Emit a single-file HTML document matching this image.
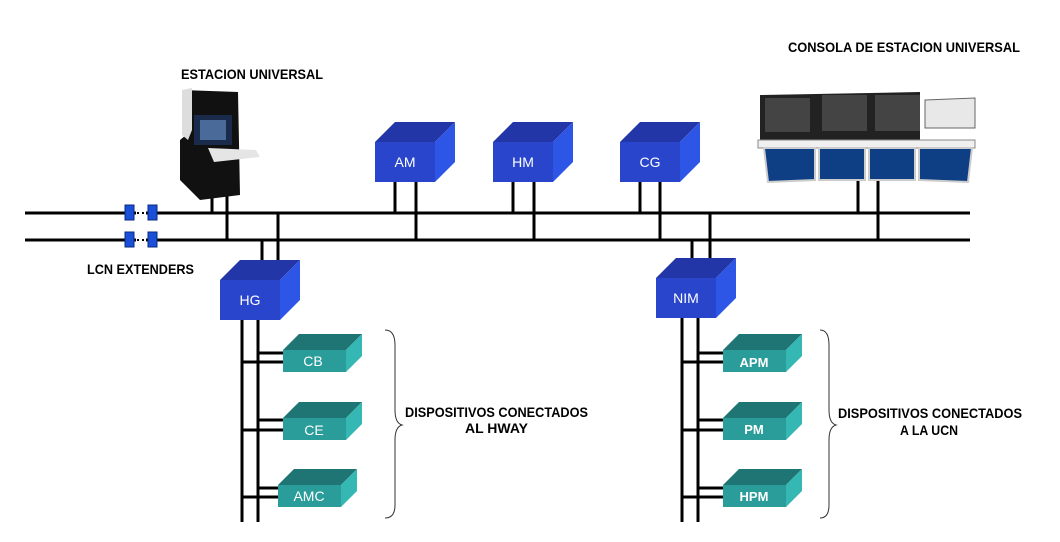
<!DOCTYPE html>
<html><head><meta charset="utf-8"><style>
html,body{margin:0;padding:0;background:#fff;}
svg{display:block;}
text{font-family:"Liberation Sans",sans-serif;}
</style></head><body>
<svg width="1060" height="542" viewBox="0 0 1060 542" xmlns="http://www.w3.org/2000/svg">
<defs>
<g id="bcube">
<polygon points="0,20 20,0 80,0 60,20" fill="#2236a8"/>
<polygon points="60,20 80,0 80,40 60,60" fill="#2d55e6"/>
<rect x="0" y="20" width="60" height="40" fill="#2845cc"/>
</g>
<g id="tcube">
<polygon points="0,16 16,0 79,0 63,16" fill="#1f7474"/>
<polygon points="63,16 79,0 79,22 63,38" fill="#35b8b4"/>
<rect x="0" y="16" width="63" height="22" fill="#2a9c99"/>
</g>
</defs>
<g stroke="#000" stroke-width="3" fill="none">
<line x1="25" y1="213" x2="970" y2="213"/>
<line x1="25" y1="240" x2="970" y2="240"/>
<line x1="212" y1="195" x2="212" y2="213"/>
<line x1="227" y1="195" x2="227" y2="240"/>
<line x1="278" y1="213" x2="278" y2="262"/>
<line x1="262" y1="240" x2="262" y2="262"/>
<line x1="395" y1="180" x2="395" y2="213"/>
<line x1="416" y1="180" x2="416" y2="240"/>
<line x1="513" y1="180" x2="513" y2="213"/>
<line x1="534" y1="180" x2="534" y2="240"/>
<line x1="640" y1="180" x2="640" y2="213"/>
<line x1="660" y1="180" x2="660" y2="240"/>
<line x1="692" y1="240" x2="692" y2="262"/>
<line x1="710" y1="213" x2="710" y2="262"/>
<line x1="858" y1="180" x2="858" y2="213"/>
<line x1="878" y1="180" x2="878" y2="240"/>
<line x1="242" y1="318" x2="242" y2="522"/>
<line x1="258" y1="318" x2="258" y2="522"/>
<line x1="258" y1="353" x2="284" y2="353"/><line x1="242" y1="362" x2="284" y2="362"/>
<line x1="258" y1="420" x2="284" y2="420"/><line x1="242" y1="430" x2="284" y2="430"/>
<line x1="258" y1="488" x2="279" y2="488"/><line x1="242" y1="497" x2="279" y2="497"/>
<line x1="682" y1="318" x2="682" y2="522"/>
<line x1="698" y1="318" x2="698" y2="522"/>
<line x1="698" y1="353" x2="724" y2="353"/><line x1="682" y1="362" x2="724" y2="362"/>
<line x1="698" y1="420" x2="724" y2="420"/><line x1="682" y1="430" x2="724" y2="430"/>
<line x1="698" y1="488" x2="724" y2="488"/><line x1="682" y1="497" x2="724" y2="497"/>
</g>
<g fill="#1a4fd8" stroke="#0a2a80" stroke-width="1">
<rect x="125" y="205" width="9" height="15"/><rect x="148" y="205" width="9" height="15"/>
<rect x="125" y="232" width="9" height="15"/><rect x="148" y="232" width="9" height="15"/>
</g>
<g fill="#fff"><rect x="136" y="211" width="10" height="4"/><rect x="136" y="238" width="10" height="4"/></g>
<g fill="#000"><rect x="137" y="212" width="2" height="2"/><rect x="142" y="212" width="2" height="2"/><rect x="137" y="239" width="2" height="2"/><rect x="142" y="239" width="2" height="2"/></g>
<polygon points="182,90 238,92 240,195 200,200 180,180 180,140 186,135" fill="#111"/>
<polygon points="182,90 192,88 192,130 188,140 182,135" fill="#ddd"/>
<rect x="194" y="115" width="38" height="30" fill="#1a2a4a"/>
<rect x="200" y="120" width="26" height="20" fill="#4a6a9a"/>
<polygon points="208,148 256,150 260,157 214,162" fill="#e5e5e5"/>
<g>
<polygon points="760,95 920,92 920,140 760,140" fill="#222"/>
<rect x="765" y="98" width="45" height="34" fill="#444"/>
<rect x="822" y="95" width="45" height="36" fill="#444"/>
<rect x="875" y="95" width="45" height="36" fill="#444"/>
<polygon points="925,100 975,98 975,128 925,128" fill="#e8e8e8" stroke="#666"/>
<rect x="758" y="140" width="217" height="8" fill="#f0f0f0" stroke="#888"/>
<polygon points="764,148 815,148 815,180 768,182" fill="#0e3f85" stroke="#ccc" stroke-width="2"/>
<rect x="819" y="148" width="46" height="32" fill="#0e3f85" stroke="#ccc" stroke-width="2"/>
<rect x="869" y="148" width="46" height="32" fill="#0e3f85" stroke="#ccc" stroke-width="2"/>
<polygon points="919,148 972,148 968,182 919,180" fill="#0e3f85" stroke="#ccc" stroke-width="2"/>
</g>
<use href="#bcube" x="375" y="122"/>
<use href="#bcube" x="493" y="122"/>
<use href="#bcube" x="620" y="122"/>
<use href="#bcube" x="220" y="260"/>
<use href="#bcube" x="656" y="258"/>
<use href="#tcube" x="283" y="334"/>
<use href="#tcube" x="283" y="402"/>
<use href="#tcube" x="278" y="469"/>
<use href="#tcube" x="723" y="334"/>
<use href="#tcube" x="723" y="402"/>
<use href="#tcube" x="723" y="469"/>
<g fill="#fff" font-size="14" text-anchor="middle">
<text x="405" y="167">AM</text><text x="523" y="167">HM</text><text x="650" y="167">CG</text>
<text x="250" y="305">HG</text><text x="686" y="303">NIM</text>
<text x="313" y="366">CB</text><text x="314" y="435">CE</text><text x="309" y="501">AMC</text>
<text x="754" y="367" font-weight="bold" font-size="13">APM</text>
<text x="754" y="434" font-weight="bold" font-size="13">PM</text>
<text x="754" y="501" font-weight="bold" font-size="13">HPM</text>
</g>
<path d="M385,330 Q395,330 395,345 L395,410 Q395,423 402,425 Q395,427 395,440 L395,505 Q395,518 385,518" fill="none" stroke="#333" stroke-width="1"/>
<path d="M820,330 Q829,330 829,345 L829,410 Q829,423 836,425 Q829,427 829,440 L829,505 Q829,518 820,518" fill="none" stroke="#333" stroke-width="1"/>
<g font-weight="bold" font-size="14" fill="#000">
<text x="181" y="79" textLength="142" lengthAdjust="spacingAndGlyphs">ESTACION UNIVERSAL</text>
<text x="788" y="52" textLength="232" lengthAdjust="spacingAndGlyphs">CONSOLA DE ESTACION UNIVERSAL</text>
<text x="87" y="274" textLength="107" lengthAdjust="spacingAndGlyphs">LCN EXTENDERS</text>
<text x="405" y="417" textLength="183" lengthAdjust="spacingAndGlyphs">DISPOSITIVOS CONECTADOS</text>
<text x="465" y="433" textLength="63" lengthAdjust="spacingAndGlyphs">AL HWAY</text>
<text x="838" y="418" textLength="184" lengthAdjust="spacingAndGlyphs">DISPOSITIVOS CONECTADOS</text>
<text x="900" y="435" textLength="58" lengthAdjust="spacingAndGlyphs">A LA UCN</text>
</g>
</svg>
</body></html>
